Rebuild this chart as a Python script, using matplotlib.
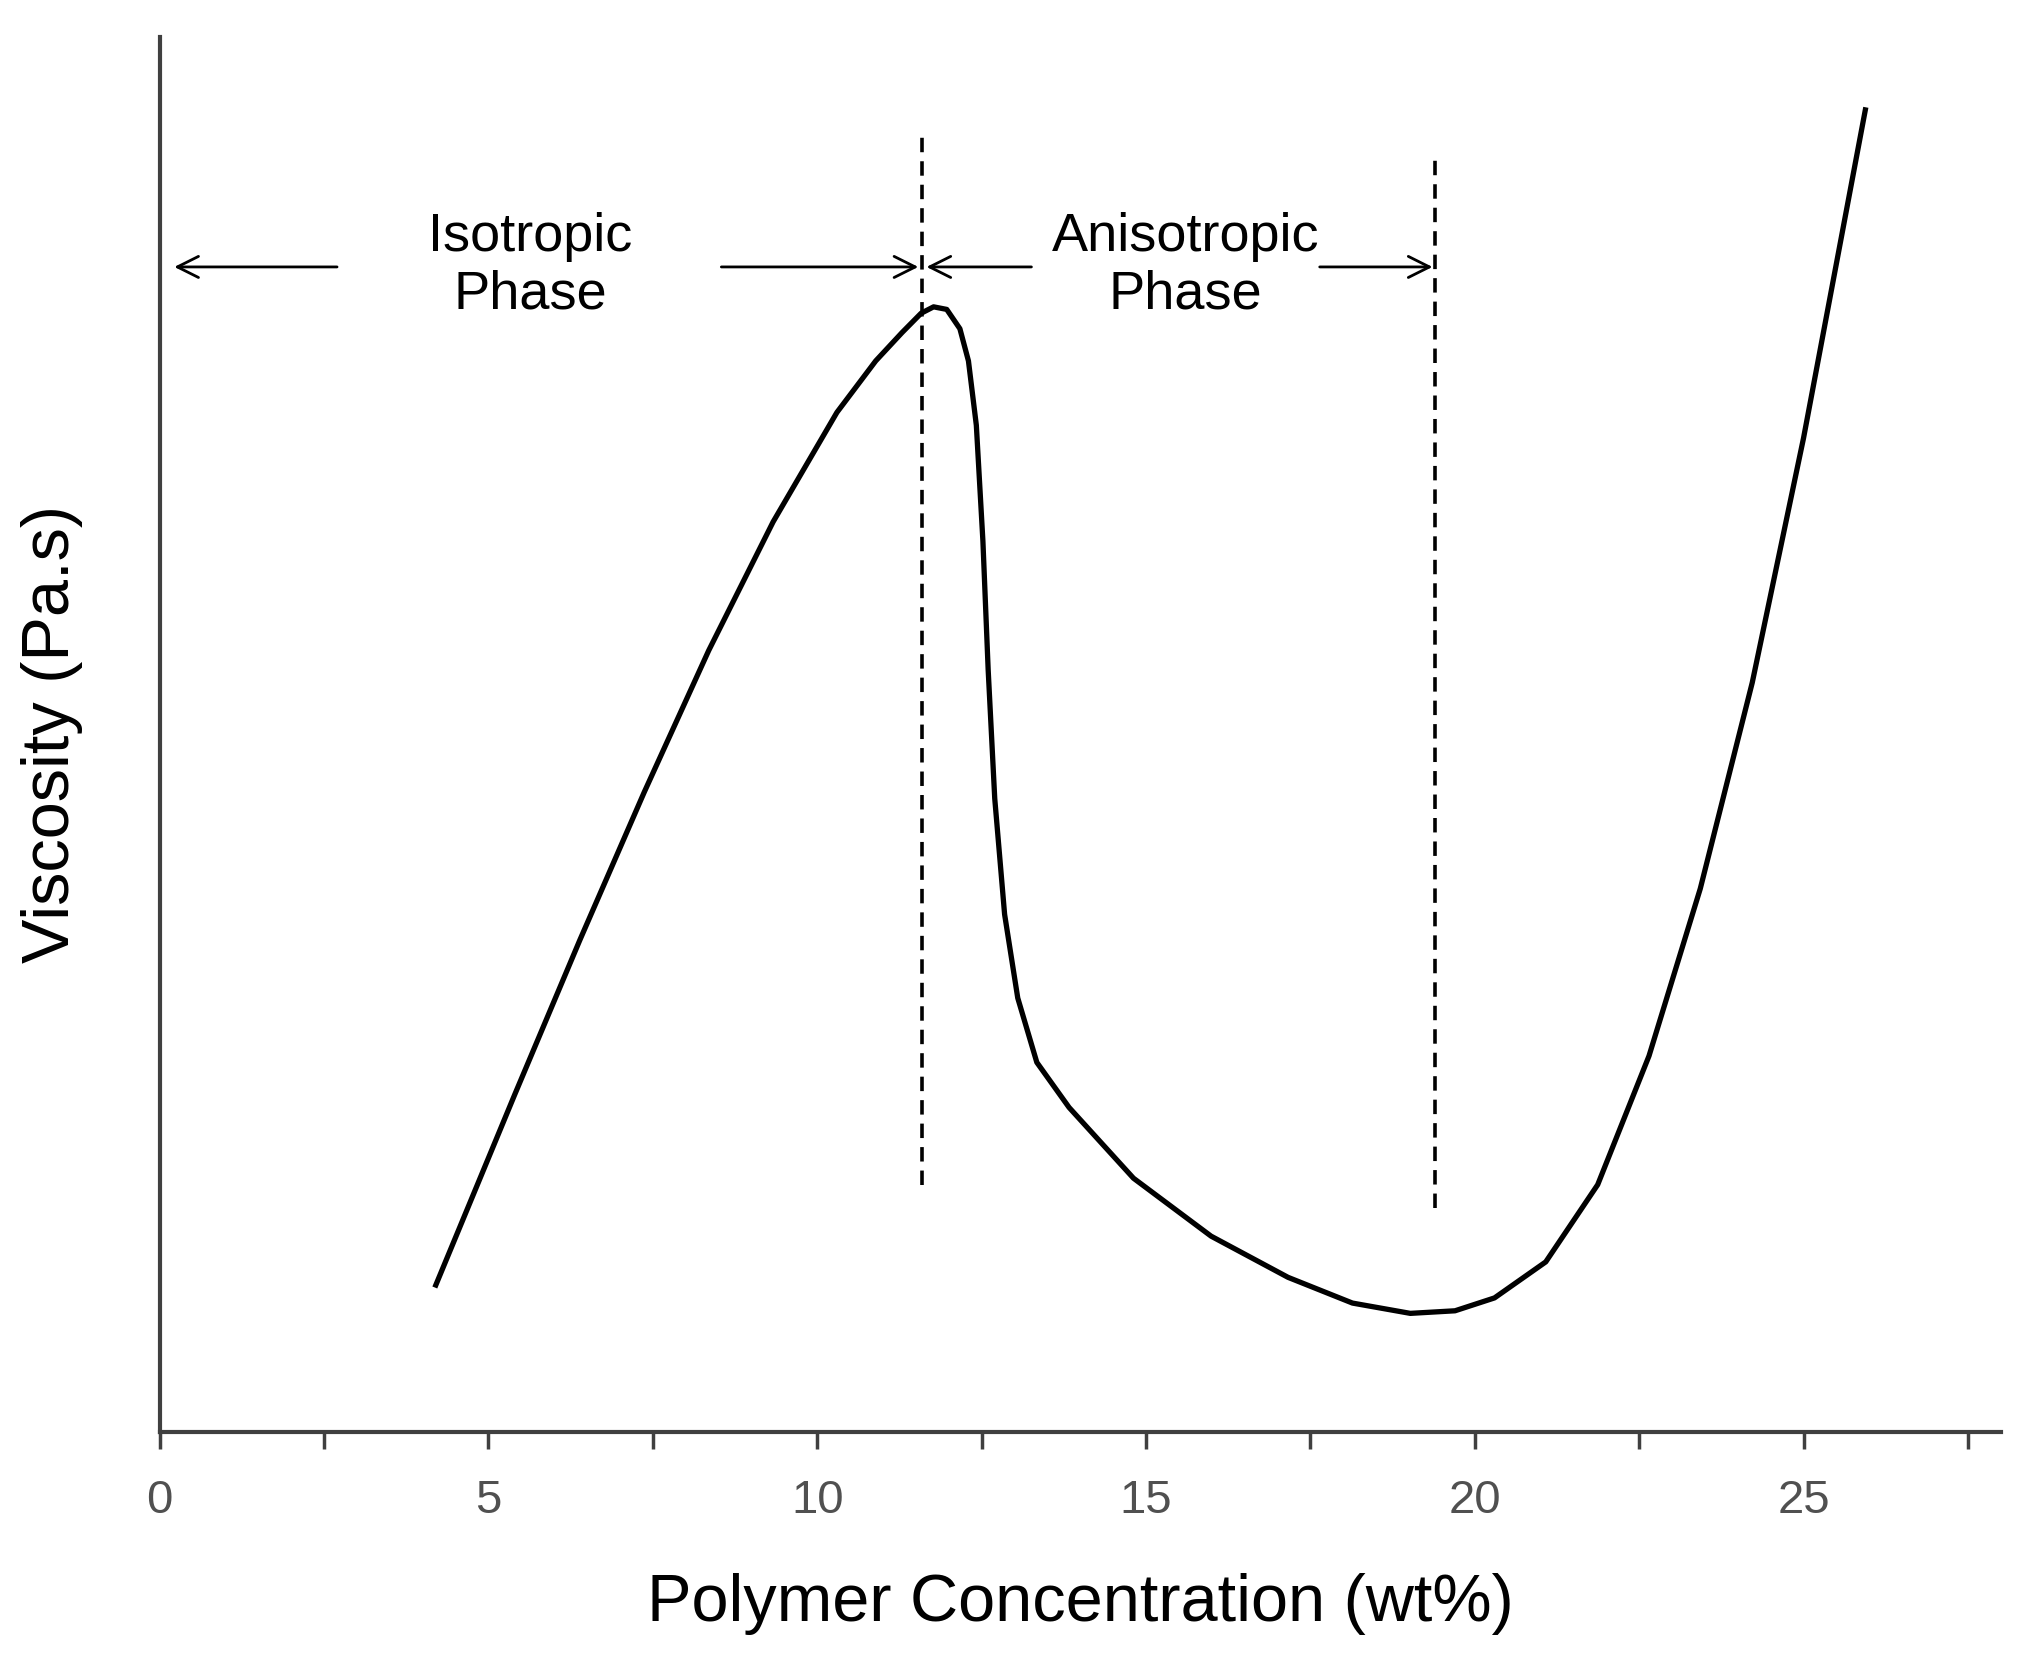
import matplotlib
matplotlib.use("Agg")
import matplotlib.pyplot as plt

plt.rcParams['font.family'] = ['Liberation Sans', 'DejaVu Sans']

conc = [4.2, 5.4, 6.39, 7.37, 8.35, 9.33, 10.3, 10.89, 11.29, 11.58, 11.77, 11.97, 12.17, 12.3, 12.42, 12.52, 12.6, 12.7, 12.85, 13.05, 13.34, 13.83, 14.81, 15.99, 17.16, 18.14, 19.02, 19.7, 20.3, 21.08, 21.87, 22.65, 23.43, 24.22, 25.0, 25.94]
visc = [114, 262, 382, 497, 607, 707, 792, 832, 854, 869, 874, 872, 857, 832, 782, 692, 592, 492, 402, 337, 287, 252, 197, 152, 120, 100, 92, 94, 104, 132, 192, 292, 422, 582, 772, 1027]

xticks_major = [0, 5, 10, 15, 20, 25]
xticks_minor = [2.5, 7.5, 12.5, 17.5, 22.5, 27.5]
boundaries = [11.6, 19.4]

fig = plt.figure(figsize=(20.21, 16.61), dpi=100)
ax = fig.add_axes([0.079, 0.138, 0.911, 0.840])
ax.plot(conc, visc, color="black", lw=3.8, solid_joinstyle="round")
ax.plot([boundaries[0]] * 2, [192, 1007], ls=(0, (4, 2.5)), color="black", lw=2.6)
ax.plot([boundaries[1]] * 2, [174, 992], ls=(0, (4, 2.5)), color="black", lw=2.6)

ya = 905
ap = dict(arrowstyle="->", color="black", lw=2, mutation_scale=38)
ax.annotate("", xy=(0.18, ya), xytext=(2.74, ya), arrowprops=ap)
ax.annotate("", xy=(11.58, ya), xytext=(8.5, ya), arrowprops=ap)
ax.annotate("", xy=(11.62, ya), xytext=(13.3, ya), arrowprops=ap)
ax.annotate("", xy=(19.4, ya), xytext=(17.6, ya), arrowprops=ap)
ax.text(5.64, 906, "Isotropic\nPhase", ha="center", va="center", fontsize=39, linespacing=1.2)
ax.text(15.6, 906, "Anisotropic\nPhase", ha="center", va="center", fontsize=39, linespacing=1.2)

ax.set_xlim(0, 28)
ax.set_ylim(0, 1084)
ax.set_xticks(xticks_major)
ax.set_xticks(xticks_minor, minor=True)
ax.set_yticks([])
for s in ["top", "right"]:
    ax.spines[s].set_visible(False)
for s in ["left", "bottom"]:
    ax.spines[s].set_color("#404040")
    ax.spines[s].set_linewidth(3)
ax.tick_params(axis="x", which="both", direction="out", length=12, width=2.5, color="#404040")
ax.tick_params(axis="x", labelsize=34, labelcolor="#505050", pad=22)
ax.set_xlabel("Polymer Concentration (wt%)", fontsize=48, labelpad=36)
ax.set_ylabel("Viscosity (Pa.s)", fontsize=48, labelpad=55)
fig.savefig("out.png", dpi=100)
